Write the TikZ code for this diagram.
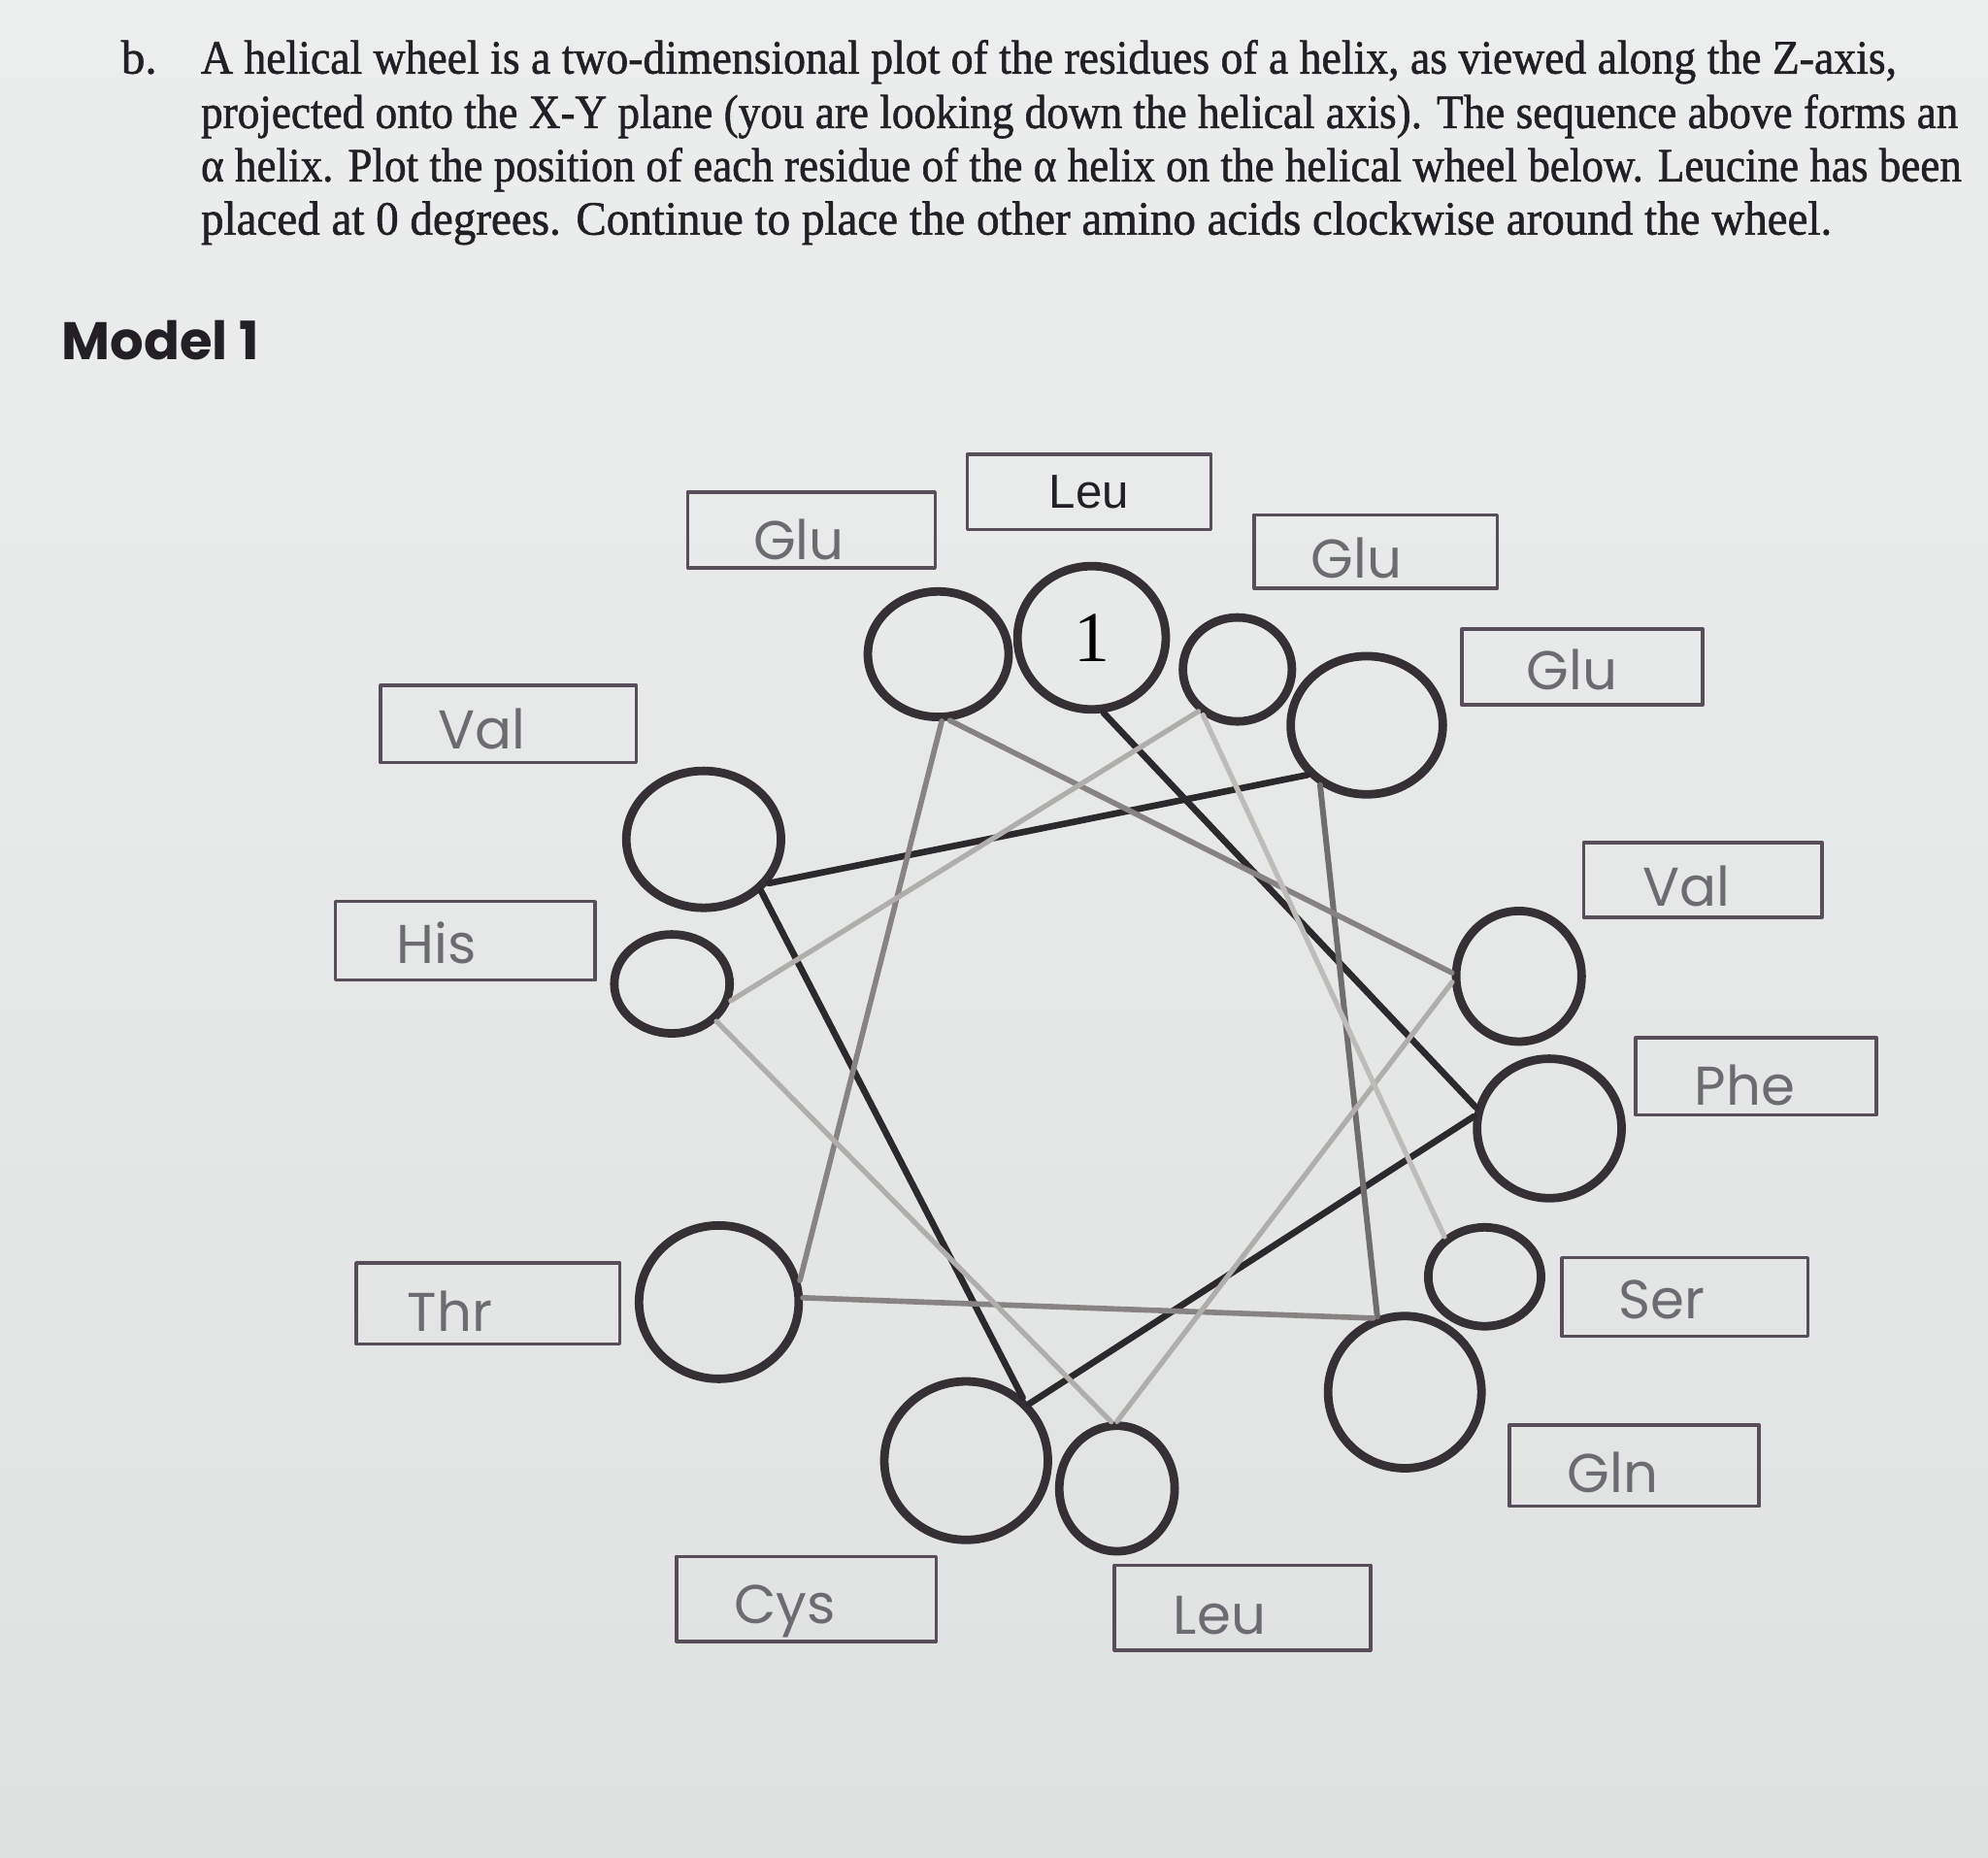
\documentclass[tikz,border=0pt]{standalone}
\usepackage{fontspec}
\setmainfont{Liberation Serif}
\newfontfamily\qfont{Liberation Serif}[FakeBold=1.2]
\newfontfamily\printfont{Liberation Sans}
\newfontfamily\handfont{Poppins}
\usetikzlibrary{shapes.geometric}
\definecolor{paperA}{RGB}{236,238,237}
\definecolor{paperB}{RGB}{224,226,225}
\definecolor{ink}{RGB}{34,32,36}
\definecolor{ring}{RGB}{52,48,52}
\definecolor{frame}{RGB}{88,78,90}
\definecolor{pencil}{RGB}{108,108,112}
\definecolor{stepA}{RGB}{44,41,44}
\definecolor{stepB}{RGB}{112,109,109}
\definecolor{stepC}{RGB}{134,131,130}
\definecolor{stepD}{RGB}{176,174,171}
\definecolor{stepE}{RGB}{190,188,185}
\begin{document}
\begin{tikzpicture}[x=0.013061cm, y=-0.013061cm, line join=round, line cap=round,
	res/.style={ellipse, draw=ring, line width=2.5pt, inner sep=0pt},
	sz/.style 2 args={minimum width=#1*0.3716pt, minimum height=#2*0.3716pt},
	slot/.style 2 args={draw=frame, line width=1pt, inner sep=0pt, minimum width=#1*0.3716pt, minimum height=#2*0.3716pt},
	hand/.style={text=pencil, font=\handfont\fontsize{16}{16}\selectfont},
	para/.style={anchor=base west, inner sep=0pt, text=ink, font=\qfont\fontsize{14}{16}\selectfont},
	blk/.style={draw=stepA, line width=1.9pt},
	dk/.style={draw=stepB, line width=1.7pt},
	md/.style={draw=stepC, line width=1.6pt},
	lt/.style={draw=stepD, line width=1.5pt},
	vlt/.style={draw=stepE, line width=1.5pt}]
	\useasboundingbox (0,0) rectangle (1568,1465);
	\fill[top color=paperA, bottom color=paperB] (0,0) rectangle (1568,1465);
	% question text
	\node[para] (qb) at (95,58) {b.};
	\node[para] (q1) at (158,58) {\resizebox{497pt}{\height}{A helical wheel is a two-dimensional plot of the residues of a helix, as viewed along the Z-axis,}};
	\node[para] (q2) at (158,101) {\resizebox{515pt}{\height}{projected onto the X-Y plane (you are looking down the helical axis). The sequence above forms an}};
	\node[para] (q3) at (158,143) {\resizebox{516pt}{\height}{α helix. Plot the position of each residue of the α helix on the helical wheel below. Leucine has been}};
	\node[para] (q4) at (158,185) {\resizebox{478pt}{\height}{placed at 0 degrees. Continue to place the other amino acids clockwise around the wheel.}};
	\node[anchor=base west, inner sep=0pt, text=ink, font=\handfont\bfseries\fontsize{15.5}{16}\selectfont] (model) at (48,284) {Model 1};
	% residues, numbered along the helix
	\node[res, sz={117}{113}, font=\fontsize{21}{21}\selectfont] (r1) at (861,503) {1};
	\node[res, sz={114}{110}] (r2) at (1222,890) {};
	\node[res, sz={129}{125}] (r3) at (762,1152) {};
	\node[res, sz={122}{108}] (r4) at (555,662) {};
	\node[res, sz={120}{109}] (r5) at (1078,572) {};
	\node[res, sz={121}{120}] (r6) at (1108,1098) {};
	\node[res, sz={126}{121}] (r7) at (567,1027) {};
	\node[res, sz={111}{99}] (r8) at (740,516) {};
	\node[res, sz={99}{103}] (r9) at (1198,770) {};
	\node[res, sz={91}{99}] (r10) at (881,1174) {};
	\node[res, sz={91}{78}] (r11) at (530,776) {};
	\node[res, sz={86}{82}] (r12) at (976,528) {};
	\node[res, sz={89}{78}] (r13) at (1171,1007) {};
	% helix path
	\draw[blk] (r1.-81) -- (r2.164);
	\draw[blk] (r2.171) -- (r3.42);
	\draw[blk] (r3.48) -- (r4.-42);
	\draw[blk] (r4.-34) -- (r5.-140);
	\draw[dk] (r5.-128) -- (r6.110);
	\draw[md] (r6.113) -- (r7.3);
	\draw[md] (r7.15) -- (r8.-87);
	\draw[md] (r8.-80) -- (r9.177);
	\draw[lt] (r9.-175) -- (r10.90);
	\draw[lt] (r10.95) -- (r11.-40);
	\draw[lt] (r11.-16) -- (r12.-133);
	\draw[vlt] (r12.-127) -- (r13.135);
	% answer boxes
	\node[slot={192}{59}, text=ink, font=\printfont\fontsize{14}{14}\selectfont] (b1) at (859,388) {Leu};
	\node[slot={190}{61}] (b2) at (1385,849) {};
	\node[slot={205}{67}] (b3) at (636,1261) {};
	\node[slot={202}{61}] (b4) at (401,571) {};
	\node[slot={190}{60}] (b5) at (1248,526) {};
	\node[slot={197}{64}] (b6) at (1289,1156) {};
	\node[slot={208}{64}] (b7) at (385,1028) {};
	\node[slot={195}{60}] (b8) at (640,418) {};
	\node[slot={188}{59}] (b9) at (1343,694) {};
	\node[slot={202}{67}] (b10) at (980,1268) {};
	\node[slot={205}{62}] (b11) at (367,742) {};
	\node[slot={192}{58}] (b12) at (1085,435) {};
	\node[slot={194}{62}] (b13) at (1329,1023) {};
	% pencilled answers
	\node[hand] (a2) at (1376,856) {Phe};
	\node[hand] (a3) at (619,1271) {Cys};
	\node[hand] (a4) at (380,575) {Val};
	\node[hand] (a5) at (1240,528) {Glu};
	\node[hand] (a6) at (1272,1161) {Gln};
	\node[hand] (a7) at (355,1034) {Thr};
	\node[hand] (a8) at (630,426) {Glu};
	\node[hand] (a9) at (1330,699) {Val};
	\node[hand] (a10) at (962,1274) {Leu};
	\node[hand] (a11) at (344,744) {His};
	\node[hand] (a12) at (1070,440) {Glu};
	\node[hand] (a13) at (1311,1025) {Ser};
\end{tikzpicture}
\end{document}
